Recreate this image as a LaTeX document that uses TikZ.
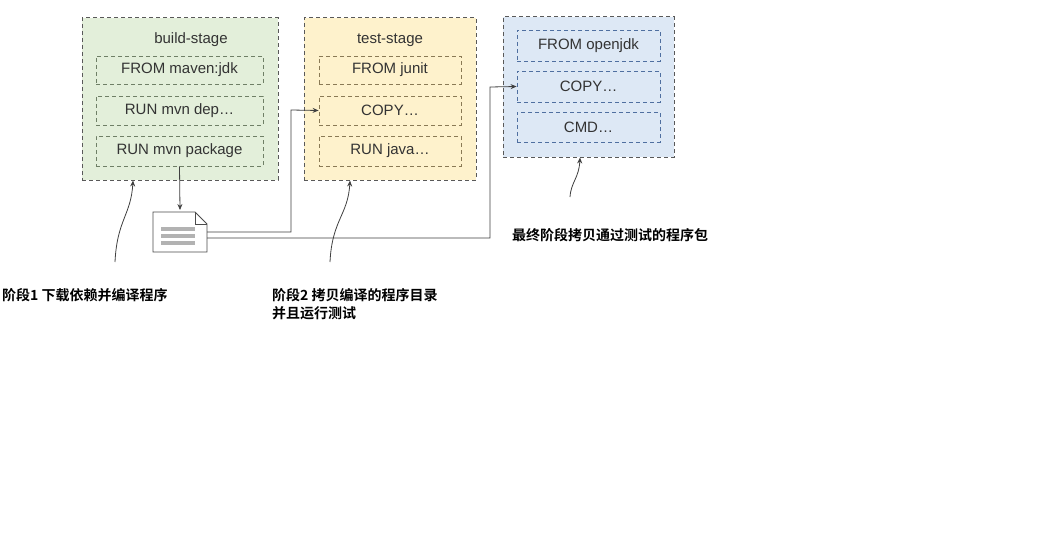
\documentclass[tikz,border=0pt]{standalone}
\usepackage{fontspec}
\setmainfont{Liberation Sans}
\newfontfamily\cjk{Noto Sans CJK SC}[BoldFont={Noto Sans CJK SC Bold}]
\usetikzlibrary{arrows.meta}
\usetikzlibrary{calc}
\usetikzlibrary{positioning}

\definecolor{greenbg}{HTML}{E3EFDA}
\definecolor{yellowbg}{HTML}{FEF2CC}
\definecolor{bluebg}{HTML}{DDE8F5}
\definecolor{greenln}{HTML}{6F7F66}
\definecolor{yellowln}{HTML}{8A7A55}
\definecolor{blueln}{HTML}{4F6FA0}

\tikzset{
  stagebox/.style={draw=gray!70!black, dashed, line width=1pt, dash pattern=on 4pt off 3pt, inner sep=0pt},
  cmdbox/.style={draw=#1, dashed, line width=0.8pt, dash pattern=on 4pt off 3pt, inner sep=0pt,
    font=\fontsize{15}{15}\selectfont, text=black!80},
  note/.style={font=\cjk\bfseries\fontsize{14}{18}\selectfont, anchor=north west, align=left, inner sep=0pt},
  conn/.style={draw=black!75, line width=0.8pt, -{Stealth[length=6pt,width=5pt]}},
}

\begin{document}
\begin{tikzpicture}[x=1pt,y=-1pt]
  \useasboundingbox (0,0) rectangle (1061,551);
  \fill[white] (0,0) rectangle (1061,551);

  % build-stage
  \node[stagebox, fill=greenbg, minimum width=196pt, minimum height=162pt] (build) at (180,99) {};
  \node[font=\fontsize{15}{15}\selectfont, text=black!80] (buildt) at (191,40) {build-stage};
  \node[cmdbox=greenln, minimum width=167pt, minimum height=28pt] (bfrom) at (179.5,70) {FROM maven:jdk};
  \node[cmdbox=greenln, minimum width=167pt, minimum height=29pt] (bdep) at (179.5,110.5) {RUN mvn dep\ldots};
  \node[cmdbox=greenln, minimum width=167pt, minimum height=30pt] (bpkg) at (179.5,151) {RUN mvn package};

  % test-stage
  \node[stagebox, fill=yellowbg, minimum width=172pt, minimum height=162pt] (test) at (390,99) {};
  \node[font=\fontsize{15}{15}\selectfont, text=black!80] (testt) at (390,40) {test-stage};
  \node[cmdbox=yellowln, minimum width=142pt, minimum height=28pt] (tfrom) at (390,70) {FROM junit};
  \node[cmdbox=yellowln, minimum width=142pt, minimum height=29pt] (tcopy) at (390,110.5) {COPY\ldots};
  \node[cmdbox=yellowln, minimum width=142pt, minimum height=30pt] (trun) at (390,151) {RUN java\ldots};

  % final stage
  \node[stagebox, fill=bluebg, minimum width=171pt, minimum height=140pt] (final) at (588.5,87) {};
  \node[cmdbox=blueln, minimum width=143pt, minimum height=31pt] (ffrom) at (588.5,45.5) {FROM openjdk};
  \node[cmdbox=blueln, minimum width=143pt, minimum height=31pt] (fcopy) at (588.5,86.5) {COPY\ldots};
  \node[cmdbox=blueln, minimum width=143pt, minimum height=30pt] (fcmd) at (588.5,127) {CMD\ldots};

  % jar file
  \draw[black!70, line width=0.8pt, fill=white]
    (153,212) -- (195,212) -- (207,224) -- (207,252) -- (153,252) -- cycle;
  \draw[black!70, line width=0.8pt] (195,212) -- (195,224) -- (207,224);
  \foreach \yy in {227,234,241} \fill[black!30] (161,\yy) rectangle (195,\yy+4);
  \coordinate (doctop) at (180,210);
  \coordinate (docr1) at (207,232);
  \coordinate (docr2) at (207,238);

  \draw[conn] (bpkg.south) -- (doctop);
  \draw[conn] (docr1) -| (291,110) -- (tcopy.west);
  \draw[conn] (docr2) -| (490,87) -- (fcopy.west);

  % notes
  \node[note] (n1) at (2,288) {阶段1 下载依赖并编译程序};
  \node[note] (n2) at (272,288) {阶段2 拷贝编译的程序目录\\并且运行测试};
  \node[note] (n3) at (512,228) {最终阶段拷贝通过测试的程序包};

  \draw[conn] (115,262) .. controls (117,220) and (131,215) .. (build.south -| 133,0);
  \draw[conn] (330,262) .. controls (332,220) and (348,215) .. (test.south -| 350,0);
  \draw[conn] (570,197) .. controls (571,182) and (579,178) .. (final.south -| 580,0);
\end{tikzpicture}
\end{document}
